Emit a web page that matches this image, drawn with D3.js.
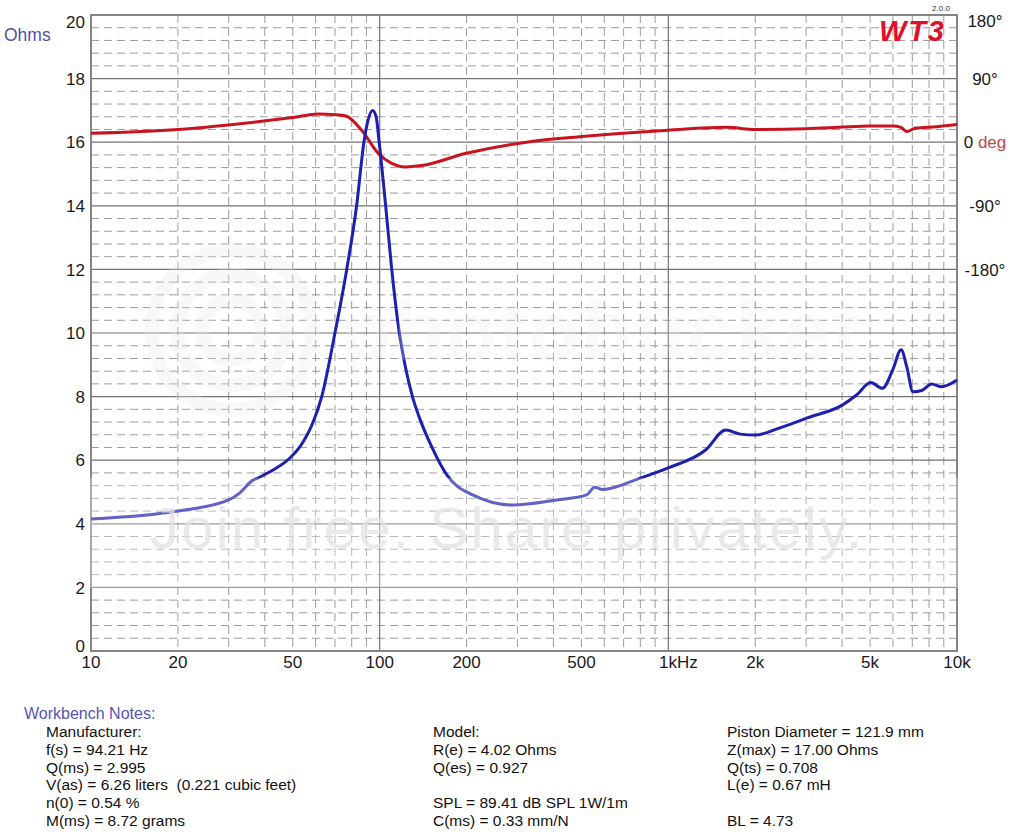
<!DOCTYPE html>
<html>
<head>
<meta charset="utf-8">
<script src="https://cdn.jsdelivr.net/npm/d3@7"></script>
<style>
  body { margin: 0; background: #fff; }
  svg { display: block; font-family: "Liberation Sans", Arial, sans-serif; }
  svg text { white-space: pre; }
</style>
</head>
<body>
<div class="chart"></div>
<script>
var svgWidth = 1024;
var svgHeight = 837;

// impedance curve (Hz, Ohms)
var zFreq = [10, 20, 30, 32.8, 36.1, 37.9, 42.7, 48.9, 52.9, 55.5, 58.2, 63, 70, 76.9, 83.2, 88.2, 91.2, 94.5, 97.2, 99.6,
  104.9, 110.1, 117, 123, 129.9, 138.3, 151.5, 171.1, 210, 290, 411, 521, 556, 592, 795, 994, 1346, 1581, 1776,
  2000, 2422, 3026, 4017, 4487, 5025, 5517, 5989, 6405, 6697, 7038, 7540, 8162, 8834, 10000];
var zOhms = [4.15, 4.40, 4.75, 4.97, 5.35, 5.44, 5.69, 6.07, 6.42, 6.72, 7.1, 8.0, 10, 12, 14, 16, 16.7, 17.0, 16.8, 16,
  14, 12, 10, 8.9, 8.0, 7.26, 6.42, 5.53, 4.91, 4.59, 4.75, 4.91, 5.15, 5.08, 5.43, 5.75, 6.32, 6.95, 6.82,
  6.79, 7.01, 7.33, 7.74, 8.05, 8.44, 8.26, 8.84, 9.47, 8.94, 8.15, 8.19, 8.40, 8.31, 8.52];

// phase curve (Hz, degrees)
var pFreq = [10, 20, 37.8, 50, 61.4, 70, 76.4, 86.6, 99, 110, 122.7, 140, 198, 336, 502, 1000, 1590, 2000, 3000,
  3900, 5000, 6000, 6400, 6700, 7200, 8500, 10000];
var pDeg = [12.6, 18, 29, 35, 40, 39, 37, 17, -16, -30, -35, -33, -16, 1, 8, 17, 21, 18, 19,
  21, 23, 23, 21, 15, 20, 22, 25];

var ohmTicks = [0, 2, 4, 6, 8, 10, 12, 14, 16, 18, 20];
var freqTicks = [10, 20, 50, 100, 200, 500, 1000, 2000, 5000, 10000];
var freqLabels = ["10", "20", "50", "100", "200", "500", "1kHz", "2k", "5k", "10k"];
var degTicks = [180, 90, 0, -90, -180];

var notesCol1 = ["Manufacturer:", "f(s) = 94.21 Hz", "Q(ms) = 2.995", "V(as) = 6.26 liters  (0.221 cubic feet)",
  "n(0) = 0.54 %", "M(ms) = 8.72 grams"];
var notesCol2 = ["Model:", "R(e) = 4.02 Ohms", "Q(es) = 0.927", "", "SPL = 89.41 dB SPL 1W/1m", "C(ms) = 0.33 mm/N"];
var notesCol3 = ["Piston Diameter = 121.9 mm", "Z(max) = 17.00 Ohms", "Q(ts) = 0.708", "L(e) = 0.67 mH", "", "BL = 4.73"];

var plot = { left: 91, right: 957, top: 15, bottom: 651 };

var svg = d3.select(".chart")
  .append("svg")
  .attr("width", svgWidth)
  .attr("height", svgHeight);

var x = d3.scaleLog().domain([10, 10000]).range([plot.left, plot.right]);
var y = d3.scaleLinear().domain([0, 20]).range([plot.bottom, plot.top]);
// phase axis: 0 deg sits on 16 Ohms, 45 deg per Ohm
var yPhase = d3.scaleLinear().domain([-180, 180]).range([y(12), y(20)]);

// grid
var grid = svg.append("g");
var minorY = d3.range(0, 20.001, 0.4).filter(function(v) { return Math.abs(v / 2 - Math.round(v / 2)) > 0.01; });
grid.selectAll(".hminor").data(minorY).enter().append("line")
  .attr("x1", plot.left).attr("x2", plot.right)
  .attr("y1", function(d) { return y(d); }).attr("y2", function(d) { return y(d); })
  .attr("stroke", "#9c9c9c").attr("stroke-width", 1).attr("stroke-dasharray", "8,5");

var minorX = [];
[10, 100, 1000].forEach(function(dec) {
  for (var k = 2; k <= 9; k++) minorX.push(dec * k);
});
grid.selectAll(".vminor").data(minorX).enter().append("line")
  .attr("y1", plot.top).attr("y2", plot.bottom)
  .attr("x1", function(d) { return x(d); }).attr("x2", function(d) { return x(d); })
  .attr("stroke", "#9c9c9c").attr("stroke-width", 1).attr("stroke-dasharray", "8,5");

grid.selectAll(".hmajor").data(ohmTicks.slice(1, -1)).enter().append("line")
  .attr("x1", plot.left).attr("x2", plot.right)
  .attr("y1", function(d) { return y(d); }).attr("y2", function(d) { return y(d); })
  .attr("stroke", "#737373").attr("stroke-width", 1.2);

grid.selectAll(".vmajor").data([100, 1000]).enter().append("line")
  .attr("y1", plot.top).attr("y2", plot.bottom)
  .attr("x1", function(d) { return x(d); }).attr("x2", function(d) { return x(d); })
  .attr("stroke", "#737373").attr("stroke-width", 1.2);

svg.append("rect")
  .attr("x", plot.left).attr("y", plot.top)
  .attr("width", plot.right - plot.left).attr("height", plot.bottom - plot.top)
  .attr("fill", "none").attr("stroke", "#858585").attr("stroke-width", 2);

// curves
var phaseLine = d3.line()
  .x(function(d, i) { return x(pFreq[i]); })
  .y(function(d) { return yPhase(d); })
  .curve(d3.curveMonotoneX);

svg.append("path")
  .attr("d", phaseLine(pDeg))
  .attr("fill", "none").attr("stroke", "#c8141e").attr("stroke-width", 3);

var zLine = d3.line()
  .x(function(d, i) { return x(zFreq[i]); })
  .y(function(d) { return y(d); })
  .curve(d3.curveMonotoneX);

svg.append("path")
  .attr("d", zLine(zOhms))
  .attr("fill", "none").attr("stroke", "#1e1eb0").attr("stroke-width", 3);

// watermark (faint photobucket overlay)
var wm = svg.append("g").attr("pointer-events", "none");
wm.append("rect")
  .attr("x", 0).attr("y", 478).attr("width", 975).attr("height", 110)
  .attr("fill", "#ffffff").attr("opacity", 0.3);
[30, 55, 80].forEach(function(r) {
  wm.append("circle").attr("cx", 232).attr("cy", 330).attr("r", r)
    .attr("fill", "none").attr("stroke", "#e8e8e8").attr("stroke-width", 14).attr("opacity", 0.3);
});
wm.append("text")
  .attr("x", 340).attr("y", 360)
  .attr("font-size", 84).attr("font-weight", "bold")
  .attr("fill", "#ececec").attr("opacity", 0.25)
  .attr("textLength", 520)
  .text("photobucket");
wm.append("text")
  .attr("x", 150).attr("y", 548)
  .attr("font-size", 58)
  .attr("fill", "#e2e2e2").attr("opacity", 0.75)
  .attr("textLength", 712)
  .text("Join free. Share privately.");

// left axis labels
svg.append("g").selectAll("text").data(ohmTicks).enter().append("text")
  .attr("x", 85)
  .attr("y", function(d) { return Math.min(Math.max(y(d), 22), 646); })
  .attr("dy", "0.36em")
  .attr("text-anchor", "end")
  .attr("font-size", 17)
  .attr("fill", "#1a1a1a")
  .text(function(d) { return d; });

svg.append("text")
  .attr("x", 4).attr("y", 35).attr("dy", "0.36em")
  .attr("font-size", 17.5).attr("fill", "#5050a8")
  .text("Ohms");

// right axis labels
var degText = svg.append("g").selectAll("text").data(degTicks).enter().append("text")
  .attr("x", 985)
  .attr("y", function(d) { return Math.max(yPhase(d), 21); })
  .attr("dy", "0.36em")
  .attr("text-anchor", "middle")
  .attr("font-size", 17)
  .attr("fill", "#1a1a1a");
degText.each(function(d) {
  var t = d3.select(this);
  if (d === 0) {
    t.append("tspan").text("0 ");
    t.append("tspan").attr("fill", "#c04848").text("deg");
  } else {
    t.text(d + "°");
  }
});

// bottom axis labels
svg.append("g").selectAll("text").data(freqTicks).enter().append("text")
  .attr("x", function(d, i) { return x(d) + (i === 6 ? 10 : 0); })
  .attr("y", 662)
  .attr("dy", "0.36em")
  .attr("text-anchor", "middle")
  .attr("font-size", 17)
  .attr("fill", "#1a1a1a")
  .text(function(d, i) { return freqLabels[i]; });

// logo
svg.append("text")
  .attr("x", 879).attr("y", 41)
  .attr("font-size", 29).attr("font-weight", "bold").attr("font-style", "italic")
  .attr("fill", "#e0102c")
  .attr("textLength", 65)
  .text("WT3");
svg.append("text")
  .attr("x", 941).attr("y", 11)
  .attr("text-anchor", "middle")
  .attr("font-size", 8).attr("fill", "#333")
  .text("2.0.0");

// workbench notes
svg.append("text")
  .attr("x", 24).attr("y", 719)
  .attr("font-size", 16).attr("fill", "#5555b0")
  .text("Workbench Notes:");

function noteColumn(lines, xPos) {
  svg.append("g").selectAll("text").data(lines).enter().append("text")
    .attr("x", xPos)
    .attr("y", function(d, i) { return 737 + i * 17.8; })
    .attr("font-size", 15.5)
    .attr("fill", "#111")
    .text(function(d) { return d; });
}
noteColumn(notesCol1, 46);
noteColumn(notesCol2, 433);
noteColumn(notesCol3, 727);
</script>
</body>
</html>
